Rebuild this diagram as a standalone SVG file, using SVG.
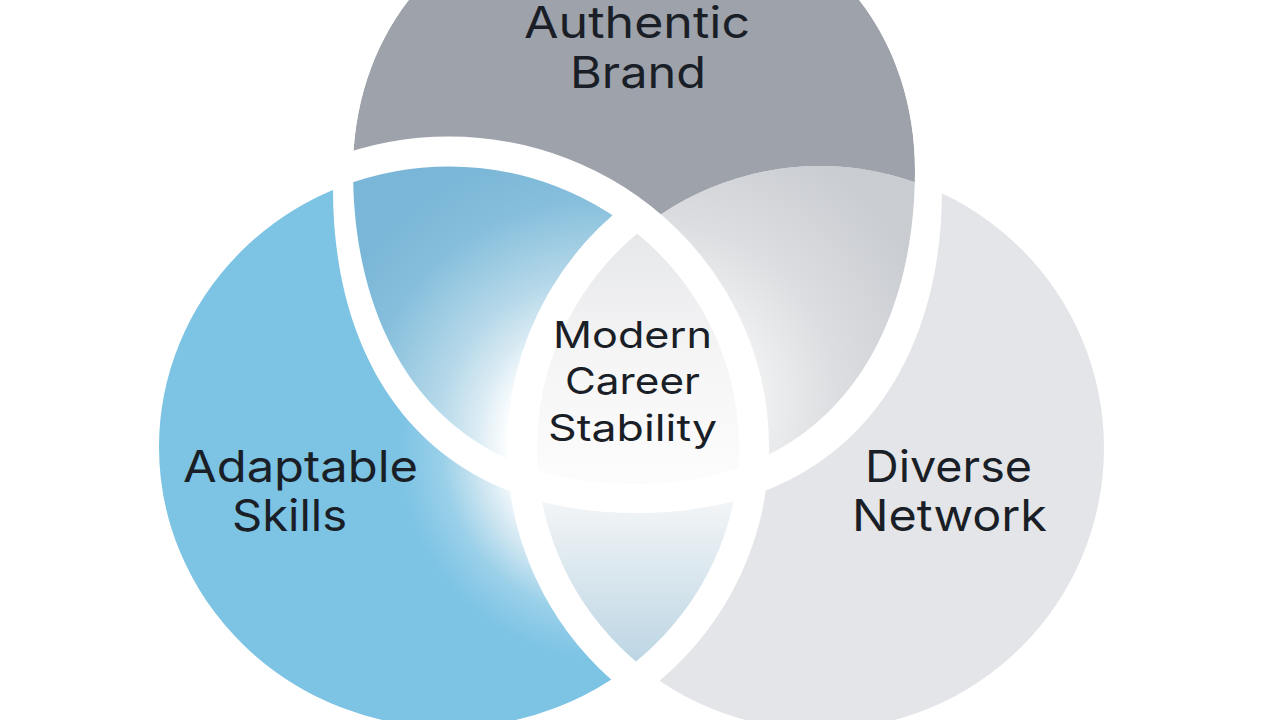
<svg xmlns="http://www.w3.org/2000/svg" width="1280" height="720" viewBox="0 0 1280 720">
<style>
text{font-family:"Inter","Noto Sans","Liberation Sans",sans-serif;fill:#1a1e26;text-anchor:middle}
.big{font-size:44px}
.mid{font-size:37px}
.ring{fill:none;stroke:#fff}
</style>
<defs>
<path id="topShape" d="M915 170C915 30 820 -100 634 -100C448 -100 353 30 353 170C353 345 443 484 634 484C825 484 915 345 915 170Z"/>
<ellipse id="leftShape" cx="449" cy="447" rx="291" ry="281"/>
<ellipse id="rightShape" cx="820" cy="448" rx="284" ry="282"/>
<clipPath id="cT"><use href="#topShape"/></clipPath>
<clipPath id="cL"><use href="#leftShape"/></clipPath>
<clipPath id="cR"><use href="#rightShape"/></clipPath>
<radialGradient id="gBlue" gradientUnits="userSpaceOnUse" cx="610" cy="450" r="240">
<stop offset="0.4" stop-color="#fff"/><stop offset="0.55" stop-color="#cfe6f1"/><stop offset="0.7" stop-color="#9ad0e9"/><stop offset="0.88" stop-color="#7cc3e4"/>
</radialGradient>
<radialGradient id="gBlue2" gradientUnits="userSpaceOnUse" cx="600" cy="440" r="300">
<stop offset="0.3" stop-color="#fff"/><stop offset="0.42" stop-color="#d8eaf3"/><stop offset="0.55" stop-color="#b5d8e9"/><stop offset="0.8" stop-color="#86bfdc"/><stop offset="1" stop-color="#7ab6d7"/>
</radialGradient>
<radialGradient id="gGrey" gradientUnits="userSpaceOnUse" cx="660" cy="400" r="290">
<stop offset="0.25" stop-color="#f7f7f7"/><stop offset="0.6" stop-color="#dcdee1"/><stop offset="1" stop-color="#c9ccd1"/>
</radialGradient>
<linearGradient id="gCenter" x1="0" y1="230" x2="0" y2="480" gradientUnits="userSpaceOnUse">
<stop offset="0" stop-color="#e6e7e9"/><stop offset="0.5" stop-color="#f5f5f6"/><stop offset="1" stop-color="#fcfcfc"/>
</linearGradient>
<linearGradient id="gBottom" x1="0" y1="500" x2="0" y2="660" gradientUnits="userSpaceOnUse">
<stop offset="0" stop-color="#f3f5f7"/><stop offset="1" stop-color="#bdd6e4"/>
</linearGradient>
</defs>
<rect width="1280" height="720" fill="#fff"/>
<g id="node-authentic-brand">
<use href="#topShape" fill="#9da2ab"/>
</g>
<g id="node-diverse-network">
<use href="#rightShape" fill="#e3e5e8"/>
</g>
<g id="overlap-top-right" clip-path="url(#cT)">
<use href="#rightShape" fill="url(#gGrey)"/>
</g>
<g id="node-adaptable-skills">
<use href="#leftShape" fill="url(#gBlue)"/>
</g>
<g id="overlap-top-left" clip-path="url(#cT)">
<use href="#leftShape" fill="url(#gBlue2)"/>
</g>
<g id="overlap-bottom" clip-path="url(#cL)">
<use href="#rightShape" fill="url(#gBottom)"/>
</g>
<g id="overlap-center" clip-path="url(#cL)">
<g clip-path="url(#cR)">
<use href="#topShape" fill="url(#gCenter)"/>
</g>
</g>
<g id="rings">
<ellipse class="ring" cx="449" cy="447" rx="305" ry="295.5" stroke-width="30"/>
<path fill="#fff" fill-rule="evenodd" d="M942 190C942 40 840 -130 637 -130C434 -130 333 40 333 190C333 365 425 513 637 513C849 513 942 365 942 190ZM915 170C915 30 820 -100 634 -100C448 -100 353 30 353 170C353 345 443 484 634 484C825 484 915 345 915 170Z"/>
<g clip-path="url(#cL)">
<ellipse class="ring" cx="820" cy="448" rx="298" ry="296" stroke-width="30"/>
</g>
</g>
<g id="labels">
<text class="big" x="637" y="38" textLength="226" lengthAdjust="spacingAndGlyphs">Authentic</text>
<text class="big" x="638" y="88" textLength="136" lengthAdjust="spacingAndGlyphs">Brand</text>
<text class="mid" x="632.5" y="348" textLength="159" lengthAdjust="spacingAndGlyphs">Modern</text>
<text class="mid" x="632.5" y="394" textLength="135" lengthAdjust="spacingAndGlyphs">Career</text>
<text class="mid" x="632.5" y="441" textLength="169" lengthAdjust="spacingAndGlyphs">Stability</text>
<text class="big" x="300.5" y="482" textLength="235" lengthAdjust="spacingAndGlyphs">Adaptable</text>
<text class="big" x="289.5" y="531" textLength="115" lengthAdjust="spacingAndGlyphs">Skills</text>
<text class="big" x="948.5" y="482" textLength="167" lengthAdjust="spacingAndGlyphs">Diverse</text>
<text class="big" x="949.5" y="531" textLength="195" lengthAdjust="spacingAndGlyphs">Network</text>
</g>
</svg>
